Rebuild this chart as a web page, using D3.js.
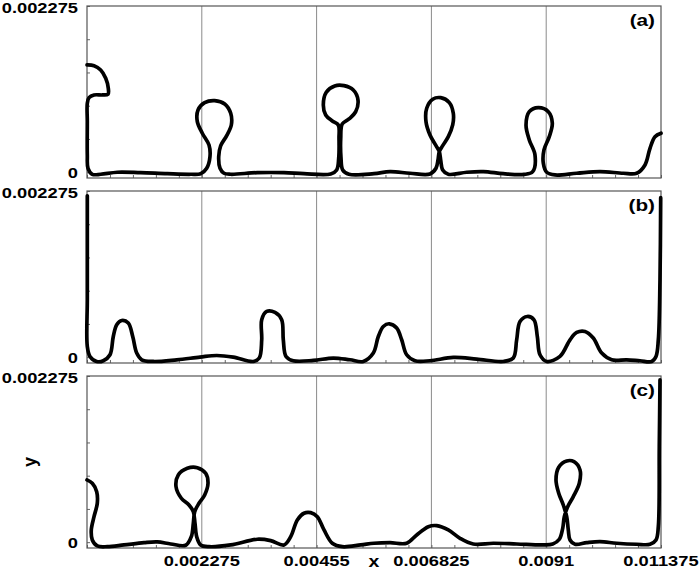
<!DOCTYPE html>
<html>
<head>
<meta charset="utf-8">
<script src="https://cdn.jsdelivr.net/npm/d3@7"></script>
<style>
  body { margin: 0; background: #fff; }
  svg { display: block; }
</style>
</head>
<body>
<div id="chart"></div>
<script>
var width = 700;
var height = 571;

// interface shapes, [x, y] in domain units, traced from the three snapshots
var interfaceA = [
  [0, 0.001468], [0.000139, 0.001458], [0.000271, 0.001399], [0.000371, 0.001286],
  [0.000422, 0.001149], [0.000416, 0.001067], [0.000303, 0.001057], [0.000139, 0.001057],
  [0.00004, 0.00102], [0.000006, 0.000943], [0.000006, 0.000691], [0.000006, 0.000236],
  [0.00002, 0.000053], [0.000105, -0.000029], [0.000271, -0.000029], [0.0006, -0.000001],
  [0.001064, -0.000007], [0.001591, -0.000021], [0.002055, -0.000029], [0.002253, -0.000021],
  [0.002372, 0.000053], [0.002437, 0.000212], [0.002418, 0.000372], [0.002285, 0.000533],
  [0.002186, 0.000691], [0.0022, 0.000852], [0.002332, 0.000952], [0.002531, 0.000979],
  [0.002729, 0.000934], [0.002848, 0.000806], [0.00286, 0.000646], [0.002768, 0.0005],
  [0.00265, 0.000363], [0.00261, 0.000212], [0.002636, 0.000053], [0.002715, -0.000015],
  [0.002848, -0.000029], [0.003375, -0.000007], [0.003904, -0.000007], [0.0043, -0.000021],
  [0.004829, -0.000025], [0.004948, 0.00003], [0.004988, 0.00019], [0.004994, 0.000464],
  [0.00498, 0.000646], [0.004861, 0.000701], [0.00473, 0.000783], [0.004683, 0.00092],
  [0.004742, 0.001094], [0.004909, 0.00118], [0.005093, 0.001184], [0.005277, 0.001125],
  [0.00537, 0.000989], [0.005325, 0.000828], [0.005192, 0.000728], [0.005059, 0.00066],
  [0.005028, 0.000464], [0.005034, 0.00019], [0.005067, 0.00003], [0.005192, -0.000029],
  [0.005687, -0.000021], [0.006005, 0.000007], [0.006401, -0.000015], [0.006797, -0.000025],
  [0.006916, 0.000053], [0.006956, 0.000167], [0.006982, 0.000281], [0.007049, 0.000363],
  [0.00716, 0.000486], [0.007247, 0.000646], [0.007259, 0.000806], [0.00718, 0.000952],
  [0.007009, 0.00102], [0.006851, 0.000998], [0.006732, 0.000875], [0.006718, 0.000691],
  [0.006797, 0.000509], [0.006916, 0.000363], [0.006982, 0.000281], [0.007009, 0.000167],
  [0.007049, 0.00003], [0.00716, -0.000029], [0.007525, -0.000001], [0.007854, 0.000007],
  [0.00825, -0.000021], [0.00866, -0.000031], [0.008832, 0.000007], [0.008878, 0.000236],
  [0.008765, 0.000441], [0.0087, 0.000646], [0.008765, 0.000828], [0.008943, 0.000883],
  [0.009142, 0.000828], [0.009221, 0.00067], [0.009161, 0.000486], [0.009056, 0.000304],
  [0.009043, 0.000122], [0.00911, -0.000001], [0.009274, -0.000038], [0.009704, -0.000015],
  [0.010166, 0.000007], [0.010628, -0.000015], [0.010893, -0.000015], [0.011058, 0.000099],
  [0.011157, 0.000327], [0.011256, 0.000486], [0.011375, 0.000533]
];

var interfaceB = [
  [0.000006, 0.00221], [0.000006, 0.001471], [0.000006, 0.000786], [0.000006, 0.000147],
  [0.000059, 0.00001], [0.000192, -0.000059], [0.000323, -0.000049], [0.000456, 0.000033],
  [0.000521, 0.000283], [0.000589, 0.000444], [0.000688, 0.000502], [0.000818, 0.000467],
  [0.000906, 0.000283], [0.000985, 0.000056], [0.001084, -0.000036], [0.001314, -0.000059],
  [0.001778, -0.000036], [0.002239, 0.000001], [0.00257, 0.000023], [0.002899, 0.000001],
  [0.003296, -0.000059], [0.003414, -0.000012], [0.003462, 0.000238], [0.003462, 0.000512],
  [0.003561, 0.000626], [0.003726, 0.000612], [0.003858, 0.000512], [0.00389, 0.000238],
  [0.003944, 0.00001], [0.004088, -0.000049], [0.004485, -0.000045], [0.004881, -0.000012],
  [0.005212, -0.000036], [0.005475, -0.000059], [0.005674, 0.000056], [0.005773, 0.000283],
  [0.005872, 0.00042], [0.005991, 0.000457], [0.006137, 0.000398], [0.006236, 0.000238],
  [0.006335, 0.000033], [0.0065, -0.000049], [0.006797, -0.000049], [0.007259, -0.000004],
  [0.007723, -0.000026], [0.00825, -0.000059], [0.008448, -0.000012], [0.008515, 0.000238],
  [0.008581, 0.000489], [0.008725, 0.000557], [0.008858, 0.000512], [0.008924, 0.000283],
  [0.008977, 0.000033], [0.00911, -0.000059], [0.009373, 0.00001], [0.009572, 0.000238],
  [0.009704, 0.000338], [0.009869, 0.000352], [0.010033, 0.000262], [0.0102, 0.000056],
  [0.010398, -0.000036], [0.010695, -0.000036], [0.010959, -0.000049], [0.011191, -0.000059],
  [0.011276, 0.00001], [0.011322, 0.000238], [0.011355, 0.00106], [0.011369, 0.002183]
];

var interfaceC = [
  [0, 0.000852], [0.000105, 0.000806], [0.000192, 0.000691], [0.000204, 0.000533],
  [0.000139, 0.000349], [0.000085, 0.000167], [0.000105, 0.00003], [0.000204, -0.000052],
  [0.000402, -0.000062], [0.000733, -0.000038], [0.00113, -0.000007], [0.001393, 0.000003],
  [0.001659, -0.000025], [0.001956, -0.000042], [0.002067, 0.000075], [0.002107, 0.000259],
  [0.002134, 0.000418], [0.00222, 0.000533], [0.002332, 0.000646], [0.002398, 0.000806],
  [0.002352, 0.000943], [0.002186, 0.00102], [0.001988, 0.001012], [0.001809, 0.00092],
  [0.001764, 0.00076], [0.001869, 0.000601], [0.002021, 0.000509], [0.002107, 0.000418],
  [0.00214, 0.000259], [0.002174, 0.000075], [0.002253, -0.000038], [0.002418, -0.000062],
  [0.002848, -0.000038], [0.003375, 0.00004], [0.00364, 0.000021], [0.003904, -0.000038],
  [0.004037, 0.000075], [0.004168, 0.000304], [0.0043, 0.000396], [0.004433, 0.000404],
  [0.004564, 0.000349], [0.004697, 0.000167], [0.004861, -0.000015], [0.005059, -0.000062],
  [0.005424, -0.000038], [0.005687, -0.000015], [0.006005, -0.000007], [0.006335, -0.000015],
  [0.006534, 0.000099], [0.006764, 0.000212], [0.00693, 0.000226], [0.00716, 0.000167],
  [0.007392, 0.000053], [0.007655, -0.000025], [0.008052, -0.000015], [0.008515, -0.000025],
  [0.009043, -0.000038], [0.009229, -0.000025], [0.00936, 0.00004], [0.009427, 0.00019],
  [0.009459, 0.000349], [0.009526, 0.000486], [0.009637, 0.000623], [0.009756, 0.000806],
  [0.00977, 0.000989], [0.009651, 0.001102], [0.009506, 0.001112], [0.009348, 0.001026],
  [0.009294, 0.000852], [0.009348, 0.00067], [0.009439, 0.000509], [0.009506, 0.000349],
  [0.009538, 0.000167], [0.009572, 0.00003], [0.009671, -0.000029], [0.009903, -0.000007],
  [0.010166, 0.000007], [0.010497, -0.000015], [0.010893, -0.000029], [0.011157, -0.000029],
  [0.011276, 0.00003], [0.011322, 0.000212], [0.011341, 0.001308], [0.011355, 0.002221]
];

var xTickValues = [0.002275, 0.00455, 0.006825, 0.0091, 0.011375];
var xTickLabels = ["0.002275", "0.00455", "0.006825", "0.0091", "0.011375"];
var yTickValues = [0, 0.002275];
var yTickLabels = ["0", "0.002275"];
var panelNames = ["(a)", "(b)", "(c)"];
var panelData = [interfaceA, interfaceB, interfaceC];

var xDomain = [0, 0.011375];
var yDomain = [-0.00008, 0.002275];
var minorStep = 0.000455;

var left = 87, right = 661;
var panelTops = [6, 191, 376];
var panelHeight = 172;
var stretch = 1.22;
var fontFamily = "'Liberation Sans', Arial, sans-serif";

const svg = d3
  .select("#chart")
  .append("svg")
  .attr("width", width)
  .attr("height", height);

const x = d3.scaleLinear().domain(xDomain).range([left, right]);

// the original figure is stretched sideways, so labels are too
function stretchedText(parent, tx, ty, str, anchor, size) {
  const g = parent
    .append("g")
    .attr("transform", `translate(${tx},${ty}) scale(${stretch},1)`);
  return g
    .append("text")
    .attr("text-anchor", anchor)
    .style("font-family", fontFamily)
    .style("font-weight", "bold")
    .style("font-size", size + "px")
    .style("fill", "#000")
    .text(str);
}

function drawPanel(i) {
  const top = panelTops[i];
  const y = d3
    .scaleLinear()
    .domain(yDomain)
    .range([top + panelHeight, top]);

  const panel = svg.append("g").attr("class", "panel");

  // vertical grid lines
  panel
    .selectAll("line.grid")
    .data(xTickValues.slice(0, -1))
    .enter()
    .append("line")
    .attr("class", "grid")
    .attr("x1", (d) => x(d))
    .attr("x2", (d) => x(d))
    .attr("y1", top)
    .attr("y2", top + panelHeight)
    .style("stroke", "#8a8a8a")
    .style("stroke-width", 1);

  // minor ticks, pointing inward
  const xMinor = d3.range(0, xDomain[1] + 1e-9, minorStep);
  const xAxis = d3
    .axisBottom(x)
    .tickValues(xMinor)
    .tickSize(-3)
    .tickFormat("");
  panel
    .append("g")
    .attr("transform", `translate(0,${top + panelHeight})`)
    .call(xAxis)
    .call((g) => g.select(".domain").remove())
    .selectAll("line")
    .style("stroke", "#666");

  const yMinor = d3.range(0, yDomain[1] + 1e-9, minorStep);
  const yAxis = d3.axisLeft(y).tickValues(yMinor).tickSize(-3).tickFormat("");
  panel
    .append("g")
    .attr("transform", `translate(${left},0)`)
    .call(yAxis)
    .call((g) => g.select(".domain").remove())
    .selectAll("line")
    .style("stroke", "#666");

  // frame
  panel
    .append("rect")
    .attr("x", left)
    .attr("y", top)
    .attr("width", right - left)
    .attr("height", panelHeight)
    .style("fill", "none")
    .style("stroke", "#555")
    .style("stroke-width", 1.2);

  // interface
  const line = d3
    .line()
    .x((d) => x(d[0]))
    .y((d) => y(d[1]))
    .curve(d3.curveCatmullRom.alpha(0.5));

  panel
    .append("path")
    .datum(panelData[i])
    .attr("d", line)
    .style("fill", "none")
    .style("stroke", "#000")
    .style("stroke-width", 3.7)
    .style("stroke-linejoin", "round")
    .style("stroke-linecap", "round");

  // y tick labels, the top one sits a little low so it stays on the page
  yTickValues.forEach((v, k) => {
    const ty = y(v) + (v > 0 ? 2 : 0);
    stretchedText(panel, 78, ty, yTickLabels[k], "end", 15).attr("dy", "0.36em");
  });

  stretchedText(panel, 655, top + 20, panelNames[i], "end", 17);

  return y;
}

for (let i = 0; i < panelNames.length; i++) {
  drawPanel(i);
}

// x tick labels only under the last panel
xTickValues.forEach((v, k) => {
  stretchedText(svg, x(v), 566, xTickLabels[k], "middle", 15);
});

stretchedText(svg, 374, 567, "x", "middle", 16);

svg
  .append("text")
  .attr("transform", "translate(36,462) rotate(-90)")
  .attr("text-anchor", "middle")
  .style("font-family", fontFamily)
  .style("font-weight", "bold")
  .style("font-size", "18px")
  .text("y");
</script>
</body>
</html>
